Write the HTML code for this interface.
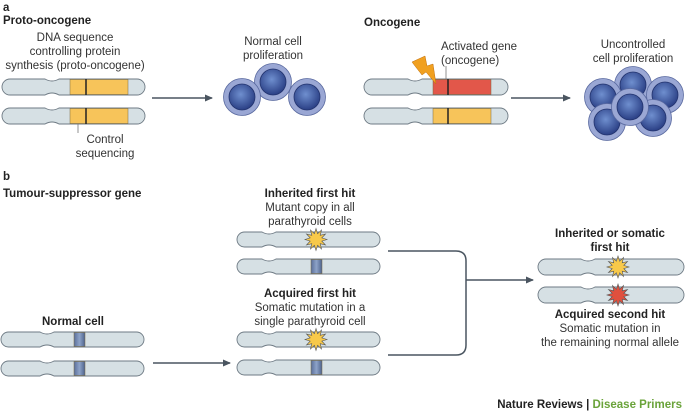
<!DOCTYPE html>
<html><head><meta charset="utf-8"><style>
body{margin:0;background:#fff}
svg{display:block}
text{font-family:"Liberation Sans",sans-serif;fill:#333;font-size:11.5px}
.b{font-weight:bold;fill:#222}
</style></head><body>
<svg id="s" width="685" height="412" viewBox="0 0 685 412" xmlns="http://www.w3.org/2000/svg">
<defs>
<radialGradient id="cell" cx="0.45" cy="0.4" r="0.6"><stop offset="0" stop-color="#6f8fcf"/><stop offset="1" stop-color="#2a3f85"/></radialGradient>
<linearGradient id="blue" x1="0" x2="1"><stop offset="0" stop-color="#5a6f9a"/><stop offset="0.5" stop-color="#8ea3c8"/><stop offset="1" stop-color="#4d628c"/></linearGradient>
<marker id="ar" markerWidth="8" markerHeight="8" refX="7" refY="4" orient="auto" markerUnits="userSpaceOnUse"><path d="M0,0.5 L8,4 L0,7.5 Z" fill="#4a5560"/></marker>
</defs>
<g id="g"></g>
<text class="b" x="3" y="11">a</text>
<text class="b" x="3" y="24">Proto-oncogene</text>
<text x="75" y="41" text-anchor="middle">DNA sequence</text>
<text x="75" y="55" text-anchor="middle">controlling protein</text>
<text x="75" y="69" text-anchor="middle">synthesis (proto-oncogene)</text>
<text x="105" y="143" text-anchor="middle">Control</text>
<text x="105" y="157" text-anchor="middle">sequencing</text>
<text x="273" y="45" text-anchor="middle">Normal cell</text>
<text x="273" y="59" text-anchor="middle">proliferation</text>
<text class="b" x="364" y="26">Oncogene</text>
<text x="441" y="50">Activated gene</text>
<text x="441" y="64">(oncogene)</text>
<text x="633" y="48" text-anchor="middle">Uncontrolled</text>
<text x="633" y="62" text-anchor="middle">cell proliferation</text>
<text class="b" x="3" y="180">b</text>
<text class="b" x="3" y="197">Tumour-suppressor gene</text>
<text class="b" x="73" y="325" text-anchor="middle">Normal cell</text>
<text class="b" x="310" y="197" text-anchor="middle">Inherited first hit</text>
<text x="310" y="211" text-anchor="middle">Mutant copy in all</text>
<text x="310" y="225" text-anchor="middle">parathyroid cells</text>
<text class="b" x="310" y="297" text-anchor="middle">Acquired first hit</text>
<text x="310" y="311" text-anchor="middle">Somatic mutation in a</text>
<text x="310" y="325" text-anchor="middle">single parathyroid cell</text>
<text class="b" x="610" y="237" text-anchor="middle">Inherited or somatic</text>
<text class="b" x="610" y="251" text-anchor="middle">first hit</text>
<text class="b" x="610" y="318" text-anchor="middle">Acquired second hit</text>
<text x="610" y="332" text-anchor="middle">Somatic mutation in</text>
<text x="610" y="346" text-anchor="middle">the remaining normal allele</text>
<text class="b" x="682" y="408" text-anchor="end">Nature Reviews | <tspan fill="#6aa33a">Disease Primers</tspan></text>
</svg>
<script>
var g=document.getElementById('g'),h='';
function chr(x1,x2,y,hh,p){var r=hh/2;return '<path d="M'+(x1+r)+','+y+' L'+(p-7)+','+y+' Q'+p+','+(y+4)+' '+(p+7)+','+y+' L'+(x2-r)+','+y+' A'+r+','+r+' 0 0 1 '+(x2-r)+','+(y+hh)+' L'+(p+7)+','+(y+hh)+' Q'+p+','+(y+hh-4)+' '+(p-7)+','+(y+hh)+' L'+(x1+r)+','+(y+hh)+' A'+r+','+r+' 0 0 1 '+(x1+r)+','+y+' Z" fill="#d6e0e4" stroke="#6e7a84" stroke-width="0.9"/>';}
function band(x1,x2,y,hh,c){return '<rect x="'+x1+'" y="'+(y+0.5)+'" width="'+(x2-x1)+'" height="'+(hh-1)+'" fill="'+c+'" stroke="#7a6a40" stroke-width="0.5"/>';}
function ln(x,y,hh){return '<line x1="'+x+'" y1="'+y+'" x2="'+x+'" y2="'+(y+hh)+'" stroke="#222" stroke-width="1.5"/>';}
function star(cx,cy,c){var s='';for(var i=0;i<24;i++){var a=i*Math.PI/12,r=i%2?6:11;s+=(cx+r*Math.sin(a)).toFixed(1)+','+(cy-r*Math.cos(a)).toFixed(1)+' ';}return '<polygon points="'+s+'" fill="'+c+'" stroke="#555" stroke-width="0.6"/>';}
function cell(x,y){return '<circle cx="'+x+'" cy="'+y+'" r="18.5" fill="#9aa7d4" stroke="#5a6aa0" stroke-width="0.8"/><circle cx="'+x+'" cy="'+y+'" r="13" fill="url(#cell)" stroke="#22336e" stroke-width="0.8"/>';}
function arr(x1,y,x2){return '<line x1="'+x1+'" y1="'+y+'" x2="'+x2+'" y2="'+y+'" stroke="#4a5560" stroke-width="1.5" marker-end="url(#ar)"/>';}
// a left
h+=chr(2,145,79,16,52)+band(70,128,79,16,'#f7c45a')+ln(86,79,16);
h+=chr(2,145,108,16,52)+band(70,128,108,16,'#f7c45a')+ln(86,108,16);
h+='<line x1="78" y1="124" x2="78" y2="133" stroke="#777" stroke-width="0.8"/>';
h+=arr(152,98,212);
h+=cell(273,82)+cell(242,97)+cell(307,97);
// oncogene
h+=chr(364,508,79,16,415)+band(433,491,79,16,'#e2574a')+ln(448,79,16);
h+=chr(364,508,108,16,415)+band(433,491,108,16,'#f7c45a')+ln(448,108,16);
h+='<line x1="446" y1="66" x2="446" y2="79" stroke="#777" stroke-width="0.8"/>';
h+='<polygon points="412,62 425,56 427,66 433,64 436,84 426,72 422,75 415,66" fill="#f0a020" stroke="#c07010" stroke-width="0.5"/>';
h+=arr(511,98,570);
[[633,85],[603,97],[665,95],[607,122],[653,118],[630,107]].forEach(function(p){h+=cell(p[0],p[1]);});
// b left
h+=chr(1,144,332,15,47)+band(74,85,332,15,'url(#blue)');
h+=chr(1,144,361,15,47)+band(74,85,361,15,'url(#blue)');
h+=arr(153,363,230);
// b middle
h+=chr(237,380,232,15,269)+star(316,239.5,'#f8c94a');
h+=chr(237,380,259,15,269)+band(311,322,259,15,'url(#blue)');
h+=chr(237,380,332,15,269)+star(316,339.5,'#f8c94a');
h+=chr(237,380,360,15,269)+band(311,322,360,15,'url(#blue)');
h+='<path d="M388,251 L456,251 Q466,251 466,261 L466,345 Q466,355 456,355 L388,355" fill="none" stroke="#4a5560" stroke-width="1.5"/>';
h+=arr(466,280,533);
// b right
h+=chr(538,684,259,16,588)+star(618,267,'#f8c94a');
h+=chr(538,684,287,16,588)+star(618,295,'#e0503e');
g.innerHTML=h;
</script>
</body></html>
